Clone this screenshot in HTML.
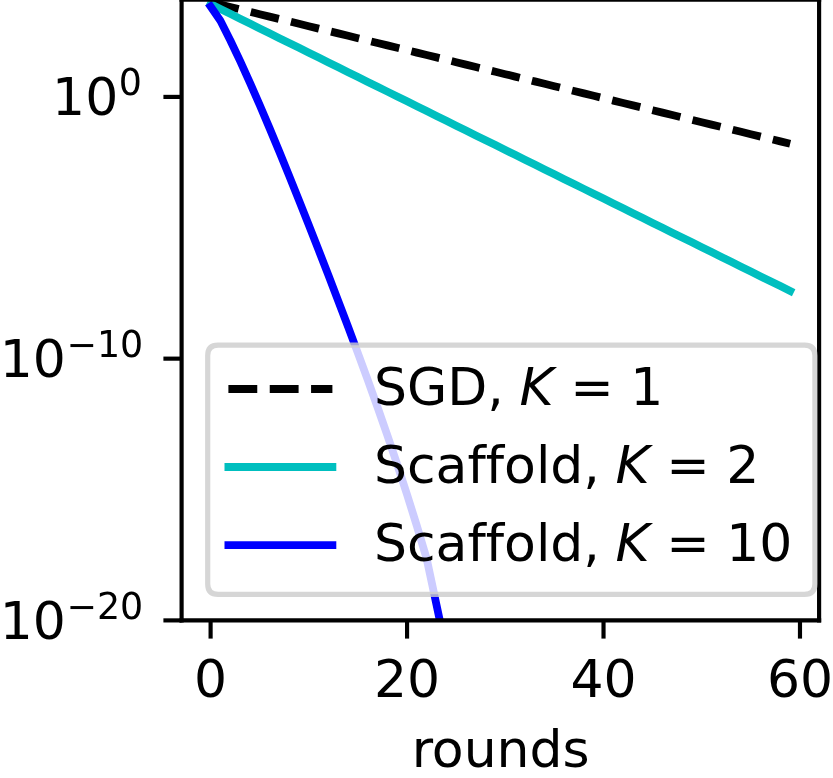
<!DOCTYPE html>
<html><head><meta charset="utf-8"><title>plot</title>
<style>html,body{margin:0;padding:0;background:#fff;}body{width:833px;height:778px;overflow:hidden;}svg{display:block;}</style>
</head><body>
<svg width="833" height="778" viewBox="5.0769 20.6923 160.1923 149.6154">
<defs>
<style type="text/css">*{stroke-linejoin: round; stroke-linecap: butt}</style>
</defs>
<g id="figure_1">
<g id="patch_1">
<path d="M 0 170 L 200 170 L 200 0 L 0 0 z
" style="fill: #ffffff"/>
</g>
<g id="axes_1">
<g id="patch_2">
<path d="M 40 140 L 162.596154 140 L 162.596154 20.634615 L 40 20.634615 z
" style="fill: #ffffff"/>
</g>
<g id="matplotlib.axis_1">
<g id="xtick_1">
<g id="line2d_1">
<g>
<path d="M 0 0 L 0 3.5 " transform="translate(45.576923 140)" style="stroke: #000000; stroke-width: 0.8"/>
</g>
</g>
<g id="text_1" transform="translate(0.0000 0.1346)">
<text style="font-size: 10px; font-family: 'DejaVu Sans', sans-serif; text-anchor: middle" x="45.576923" y="154.598437">0</text>
</g>
</g>
<g id="xtick_2">
<g id="line2d_2">
<g>
<path d="M 0 0 L 0 3.5 " transform="translate(83.357692 140)" style="stroke: #000000; stroke-width: 0.8"/>
</g>
</g>
<g id="text_2" transform="translate(0.0000 0.1346)">
<text style="font-size: 10px; font-family: 'DejaVu Sans', sans-serif; text-anchor: middle" x="83.357692" y="154.598437">20</text>
</g>
</g>
<g id="xtick_3">
<g id="line2d_3">
<g>
<path d="M 0 0 L 0 3.5 " transform="translate(121.138462 140)" style="stroke: #000000; stroke-width: 0.8"/>
</g>
</g>
<g id="text_3" transform="translate(0.0000 0.1346)">
<text style="font-size: 10px; font-family: 'DejaVu Sans', sans-serif; text-anchor: middle" x="121.138462" y="154.598437">40</text>
</g>
</g>
<g id="xtick_4">
<g id="line2d_4">
<g>
<path d="M 0 0 L 0 3.5 " transform="translate(158.919231 140)" style="stroke: #000000; stroke-width: 0.8"/>
</g>
</g>
<g id="text_4" transform="translate(0.0000 0.1346)">
<text style="font-size: 10px; font-family: 'DejaVu Sans', sans-serif; text-anchor: middle" x="158.919231" y="154.598437">60</text>
</g>
</g>
<g id="text_5" transform="translate(0.0577 -0.0769)">
<text style="font-size: 10px; font-family: 'DejaVu Sans', sans-serif; text-anchor: middle" x="101.298077" y="168.276563">rounds</text>
</g>
</g>
<g id="matplotlib.axis_2">
<g id="ytick_1">
<g id="line2d_5">
<g>
<path d="M 0 0 L -3.5 0 " transform="translate(40 39.326923)" style="stroke: #000000; stroke-width: 0.8"/>
</g>
</g>
<g id="text_6" transform="translate(-0.3077 0.5769)">
<g transform="translate(15.4 43.126142)">
<text>
<tspan x="0" y="-0.976562" style="font-size: 10px; font-family: 'DejaVu Sans', sans-serif">1</tspan>
<tspan x="6.362305" y="-0.976562" style="font-size: 10px; font-family: 'DejaVu Sans', sans-serif">0</tspan>
<tspan x="12.820312" y="-4.804688" style="font-size: 7px; font-family: 'DejaVu Sans', sans-serif">0</tspan>
</text>
</g>
</g>
</g>
<g id="ytick_2">
<g id="line2d_6">
<g>
<path d="M 0 0 L -3.5 0 " transform="translate(40 89.663462)" style="stroke: #000000; stroke-width: 0.8"/>
</g>
</g>
<g id="text_7" transform="translate(-0.0769 0.7692)">
<g transform="translate(5.1 93.46268)">
<text>
<tspan x="0" y="-0.976562" style="font-size: 10px; font-family: 'DejaVu Sans', sans-serif">1</tspan>
<tspan x="6.362305" y="-0.976562" style="font-size: 10px; font-family: 'DejaVu Sans', sans-serif">0</tspan>
<tspan x="12.820312" y="-4.804688" style="font-size: 7px; font-family: 'DejaVu Sans', sans-serif">−</tspan>
<tspan x="18.685547" y="-4.804688" style="font-size: 7px; font-family: 'DejaVu Sans', sans-serif">1</tspan>
<tspan x="23.13916" y="-4.804688" style="font-size: 7px; font-family: 'DejaVu Sans', sans-serif">0</tspan>
</text>
</g>
</g>
</g>
<g id="ytick_3">
<g id="line2d_7">
<g>
<path d="M 0 0 L -3.5 0 " transform="translate(40 140)" style="stroke: #000000; stroke-width: 0.8"/>
</g>
</g>
<g id="text_8" transform="translate(-0.0769 0.6923)">
<g transform="translate(5.1 143.799219)">
<text>
<tspan x="0" y="-0.976562" style="font-size: 10px; font-family: 'DejaVu Sans', sans-serif">1</tspan>
<tspan x="6.362305" y="-0.976562" style="font-size: 10px; font-family: 'DejaVu Sans', sans-serif">0</tspan>
<tspan x="12.820312" y="-4.804688" style="font-size: 7px; font-family: 'DejaVu Sans', sans-serif">−</tspan>
<tspan x="18.685547" y="-4.804688" style="font-size: 7px; font-family: 'DejaVu Sans', sans-serif">2</tspan>
<tspan x="23.13916" y="-4.804688" style="font-size: 7px; font-family: 'DejaVu Sans', sans-serif">0</tspan>
</text>
</g>
</g>
</g>
</g>
<g id="line2d_8">
<path d="M 45.576923 21.115385 L 47.465962 21.576877 L 49.355 22.038369 L 51.244038 22.499861 L 53.133077 22.961353 L 55.022115 23.422845 L 56.911154 23.884337 L 58.800192 24.345829 L 60.689231 24.807321 L 62.578269 25.268813 L 64.467308 25.730306 L 66.356346 26.191798 L 68.245385 26.65329 L 70.134423 27.114782 L 72.023462 27.576274 L 73.9125 28.037766 L 75.801538 28.499258 L 77.690577 28.96075 L 79.579615 29.422242 L 81.468654 29.883734 L 83.357692 30.345227 L 85.246731 30.806719 L 87.135769 31.268211 L 89.024808 31.729703 L 90.913846 32.191195 L 92.802885 32.652687 L 94.691923 33.114179 L 96.580962 33.575671 L 98.47 34.037163 L 100.359038 34.498655 L 102.248077 34.960147 L 104.137115 35.42164 L 106.026154 35.883132 L 107.915192 36.344624 L 109.804231 36.806116 L 111.693269 37.267608 L 113.582308 37.7291 L 115.471346 38.190592 L 117.360385 38.652084 L 119.249423 39.113576 L 121.138462 39.575068 L 123.0275 40.036561 L 124.916538 40.498053 L 126.805577 40.959545 L 128.694615 41.421037 L 130.583654 41.882529 L 132.472692 42.344021 L 134.361731 42.805513 L 136.250769 43.267005 L 138.139808 43.728497 L 140.028846 44.189989 L 141.917885 44.651482 L 143.806923 45.112974 L 145.695962 45.574466 L 147.585 46.035958 L 149.474038 46.49745 L 151.363077 46.958942 L 153.252115 47.420434 L 155.141154 47.881926 L 157.030192 48.343418 " clip-path="url(#pca69822642)" style="fill: none; stroke-dasharray: 5.55,2.4; stroke-dashoffset: 0; stroke: #000000; stroke-width: 1.5"/>
</g>
<g id="line2d_9">
<path d="M 45.576923 21.480769 L 47.465962 22.415843 L 49.355 23.350917 L 51.244038 24.285991 L 53.133077 25.221065 L 55.022115 26.156139 L 56.911154 27.091213 L 58.800192 28.026287 L 60.689231 28.961362 L 62.578269 29.896436 L 64.467308 30.83151 L 66.356346 31.766584 L 68.245385 32.701658 L 70.134423 33.636732 L 72.023462 34.571806 L 73.9125 35.50688 L 75.801538 36.441954 L 77.690577 37.377028 L 79.579615 38.312102 L 81.468654 39.247176 L 83.357692 40.18225 L 85.246731 41.117324 L 87.135769 42.052398 L 89.024808 42.987472 L 90.913846 43.922546 L 92.802885 44.85762 L 94.691923 45.792694 L 96.580962 46.727768 L 98.47 47.662842 L 100.359038 48.597916 L 102.248077 49.53299 L 104.137115 50.468064 L 106.026154 51.403138 L 107.915192 52.338212 L 109.804231 53.273287 L 111.693269 54.208361 L 113.582308 55.143435 L 115.471346 56.078509 L 117.360385 57.013583 L 119.249423 57.948657 L 121.138462 58.883731 L 123.0275 59.818805 L 124.916538 60.753879 L 126.805577 61.688953 L 128.694615 62.624027 L 130.583654 63.559101 L 132.472692 64.494175 L 134.361731 65.429249 L 136.250769 66.364323 L 138.139808 67.299397 L 140.028846 68.234471 L 141.917885 69.169545 L 143.806923 70.104619 L 145.695962 71.039693 L 147.585 71.974767 L 149.474038 72.909841 L 151.363077 73.844915 L 153.252115 74.779989 L 155.141154 75.715063 L 157.030192 76.650137 " clip-path="url(#pca69822642)" style="fill: none; stroke: #00bfbf; stroke-width: 1.5; stroke-linecap: square"/>
</g>
<g id="line2d_10">
<path d="M 45.576923 21.942308 L 47.465962 24.697238 L 49.355 28.437902 L 51.244038 32.407803 L 53.133077 36.568653 L 55.022115 40.886788 L 56.911154 45.333176 L 58.800192 49.883415 L 60.689231 54.517729 L 62.578269 59.220975 L 64.467308 63.982636 L 66.356346 68.796825 L 68.245385 73.662287 L 70.134423 78.582392 L 72.023462 83.565141 L 73.9125 88.623165 L 75.801538 93.773724 L 77.690577 99.038706 L 79.579615 104.444629 L 81.468654 110.02264 L 83.357692 115.808515 L 85.246731 121.84266 L 87.135769 128.17011 L 89.024808 137.048591 L 90.913846 145.927072 " clip-path="url(#pca69822642)" style="fill: none; stroke: #0000ff; stroke-width: 1.5; stroke-linecap: square"/>
</g>
<g id="patch_3">
<path d="M 40 140 L 40 20.634615 " style="fill: none; stroke: #000000; stroke-width: 0.8; stroke-linejoin: miter; stroke-linecap: square"/>
</g>
<g id="patch_4">
<path d="M 162.596154 140 L 162.596154 20.634615 " style="fill: none; stroke: #000000; stroke-width: 0.8; stroke-linejoin: miter; stroke-linecap: square"/>
</g>
<g id="patch_5">
<path d="M 40 140 L 162.596154 140 " style="fill: none; stroke: #000000; stroke-width: 0.8; stroke-linejoin: miter; stroke-linecap: square"/>
</g>
<g id="patch_6">
<path d="M 40 20.634615 L 162.596154 20.634615 " style="fill: none; stroke: #000000; stroke-width: 0.8; stroke-linejoin: miter; stroke-linecap: square"/>
</g>
<g id="legend_1">
<g id="patch_7">
<path d="M 47.0192 134.9808 L 159.7885 134.9808 Q 161.7885 134.9808 161.7885 132.9808 L 161.7885 89.0769 Q 161.7885 87.0769 159.7885 87.0769 L 47.0192 87.0769 Q 45.0192 87.0769 45.0192 89.0769 L 45.0192 132.9808 Q 45.0192 134.9808 47.0192 134.9808 z" style="fill: #ffffff; fill-opacity: 0.8; stroke: #cccccc; stroke-opacity: 0.8; stroke-linejoin: miter"/>
</g>
<g id="line2d_11">
<path d="M 49 95.5000 L 59 95.5000 L 69 95.5000 " style="fill: none; stroke-dasharray: 5.55,2.4; stroke-dashoffset: 0; stroke: #000000; stroke-width: 1.5"/>
</g>
<g id="text_9">
<g transform="translate(77.0000 99.0641)">
<text>
<tspan x="0.0000" y="-0.578125" style="font-size: 10px; font-family: 'DejaVu Sans', sans-serif">S</tspan>
<tspan x="6.3477" y="-0.578125" style="font-size: 10px; font-family: 'DejaVu Sans', sans-serif">G</tspan>
<tspan x="14.0967" y="-0.578125" style="font-size: 10px; font-family: 'DejaVu Sans', sans-serif">D</tspan>
<tspan x="21.7969" y="-0.578125" style="font-size: 10px; font-family: 'DejaVu Sans', sans-serif">,</tspan>
<tspan x="24.9756" y="-0.578125" style="font-size: 10px; font-family: 'DejaVu Sans', sans-serif"> </tspan>
<tspan x="37.7371" y="-0.578125" style="font-size: 10px; font-family: 'DejaVu Sans', sans-serif">=</tspan>
<tspan x="49.2565" y="-0.578125" style="font-size: 10px; font-family: 'DejaVu Sans', sans-serif">1</tspan>
<tspan x="27.9620" y="-0.578125" style="font-style: oblique; font-size: 10px; font-family: 'DejaVu Sans', sans-serif">K</tspan>
</text>
</g>
</g>
<g id="line2d_12">
<path d="M 49 110.5000 L 59 110.5000 L 69 110.5000 " style="fill: none; stroke: #00bfbf; stroke-width: 1.5; stroke-linecap: square"/>
</g>
<g id="text_10">
<g transform="translate(77.0000 114.0210)">
<text>
<tspan x="0.0000" y="-0.40625" style="font-size: 10px; font-family: 'DejaVu Sans', sans-serif">S</tspan>
<tspan x="6.3477" y="-0.40625" style="font-size: 10px; font-family: 'DejaVu Sans', sans-serif">c</tspan>
<tspan x="11.8457" y="-0.40625" style="font-size: 10px; font-family: 'DejaVu Sans', sans-serif">a</tspan>
<tspan x="17.9736" y="-0.40625" style="font-size: 10px; font-family: 'DejaVu Sans', sans-serif">f</tspan>
<tspan x="21.4941" y="-0.40625" style="font-size: 10px; font-family: 'DejaVu Sans', sans-serif">f</tspan>
<tspan x="25.0146" y="-0.40625" style="font-size: 10px; font-family: 'DejaVu Sans', sans-serif">o</tspan>
<tspan x="31.1328" y="-0.40625" style="font-size: 10px; font-family: 'DejaVu Sans', sans-serif">l</tspan>
<tspan x="33.9111" y="-0.40625" style="font-size: 10px; font-family: 'DejaVu Sans', sans-serif">d</tspan>
<tspan x="40.2588" y="-0.40625" style="font-size: 10px; font-family: 'DejaVu Sans', sans-serif">,</tspan>
<tspan x="43.4375" y="-0.40625" style="font-size: 10px; font-family: 'DejaVu Sans', sans-serif"> </tspan>
<tspan x="56.1990" y="-0.40625" style="font-size: 10px; font-family: 'DejaVu Sans', sans-serif">=</tspan>
<tspan x="67.7184" y="-0.40625" style="font-size: 10px; font-family: 'DejaVu Sans', sans-serif">2</tspan>
<tspan x="46.4239" y="-0.40625" style="font-style: oblique; font-size: 10px; font-family: 'DejaVu Sans', sans-serif">K</tspan>
</text>
</g>
</g>
<g id="line2d_13">
<path d="M 49 125.5192 L 59 125.5192 L 69 125.5192 " style="fill: none; stroke: #0000ff; stroke-width: 1.5; stroke-linecap: square"/>
</g>
<g id="text_11">
<g transform="translate(77.0000 128.9011)">
<text>
<tspan x="0.0000" y="-0.40625" style="font-size: 10px; font-family: 'DejaVu Sans', sans-serif">S</tspan>
<tspan x="6.3477" y="-0.40625" style="font-size: 10px; font-family: 'DejaVu Sans', sans-serif">c</tspan>
<tspan x="11.8457" y="-0.40625" style="font-size: 10px; font-family: 'DejaVu Sans', sans-serif">a</tspan>
<tspan x="17.9736" y="-0.40625" style="font-size: 10px; font-family: 'DejaVu Sans', sans-serif">f</tspan>
<tspan x="21.4941" y="-0.40625" style="font-size: 10px; font-family: 'DejaVu Sans', sans-serif">f</tspan>
<tspan x="25.0146" y="-0.40625" style="font-size: 10px; font-family: 'DejaVu Sans', sans-serif">o</tspan>
<tspan x="31.1328" y="-0.40625" style="font-size: 10px; font-family: 'DejaVu Sans', sans-serif">l</tspan>
<tspan x="33.9111" y="-0.40625" style="font-size: 10px; font-family: 'DejaVu Sans', sans-serif">d</tspan>
<tspan x="40.2588" y="-0.40625" style="font-size: 10px; font-family: 'DejaVu Sans', sans-serif">,</tspan>
<tspan x="43.4375" y="-0.40625" style="font-size: 10px; font-family: 'DejaVu Sans', sans-serif"> </tspan>
<tspan x="56.1990" y="-0.40625" style="font-size: 10px; font-family: 'DejaVu Sans', sans-serif">=</tspan>
<tspan x="67.7184" y="-0.40625" style="font-size: 10px; font-family: 'DejaVu Sans', sans-serif">1</tspan>
<tspan x="74.0808" y="-0.40625" style="font-size: 10px; font-family: 'DejaVu Sans', sans-serif">0</tspan>
<tspan x="46.4239" y="-0.40625" style="font-style: oblique; font-size: 10px; font-family: 'DejaVu Sans', sans-serif">K</tspan>
</text>
</g>
</g>
</g>
</g>
</g>
<defs>
<clipPath id="pca69822642">
<rect x="40" y="20.634615" width="122.596154" height="119.365385"/>
</clipPath>
</defs>
</svg>

</body></html>
